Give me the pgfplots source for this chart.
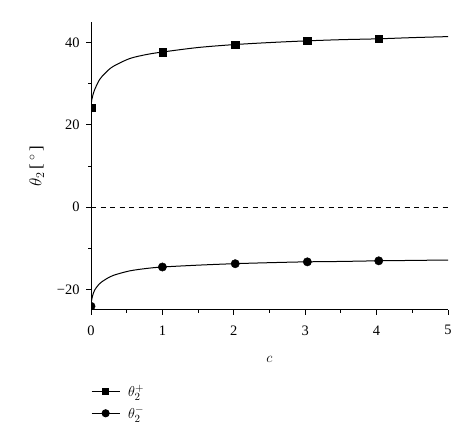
\documentclass[border=0pt]{standalone}
\usepackage{fontspec}
\setmainfont{Liberation Serif}
\usepackage{pgfplots}
\pgfplotsset{compat=1.18}
\pgfplotstableread{
c y
0 24.2
0.005 25.4
0.02 26.8
0.05 28.5
0.12 31.0
0.2 32.6
0.31 34.2
0.54 36.1
0.78 37.1
1 37.7
1.5 38.8
2 39.5
2.5 40.0
3 40.4
3.5 40.7
4 40.9
4.5 41.2
5 41.45
}\plus
\pgfplotstableread{
c y
0 -24.1
0.005 -23.0
0.02 -21.7
0.05 -20.2
0.12 -18.6
0.2 -17.6
0.31 -16.6
0.54 -15.5
0.78 -14.9
1 -14.55
1.5 -14.1
2 -13.75
2.5 -13.5
3 -13.3
3.5 -13.2
4 -13.05
4.5 -12.95
5 -12.85
}\minus
\begin{document}
\begin{tikzpicture}[x=1bp,y=1bp]
\useasboundingbox (0,0) rectangle (474,445);
\begin{axis}[
  at={(91bp,135bp)}, anchor=south west,
  scale only axis, width=357bp, height=288bp,
  xmin=0, xmax=5, ymin=-25, ymax=45,
  axis lines*=left,
  axis line style={line width=1bp},
  tick style={line width=0.9bp, black},
  tick align=outside,
  major tick length=5bp, minor tick length=3bp,
  xtick={0,1,2,3,4,5}, minor x tick num=1,
  ytick={-20,0,20,40}, yticklabels={−20,0,20,40},
  minor y tick num=1,
  /pgf/number format/assume math mode=true,
  ticklabel style={font=\fontsize{14.5}{16}\selectfont},
  xticklabel style={yshift=-7bp},
  yticklabel style={xshift=-3bp},
  xlabel={$c$},
  xlabel style={font=\fontsize{15.5}{17}\selectfont, yshift=-14bp},
  ylabel={$\theta_2$\,[\,$^{\circ}$\,]},
  ylabel style={font=\fontsize{17}{19}\selectfont, yshift=6bp},
  clip marker paths=true,
  legend style={at={(0,-0.245)}, anchor=north west, draw=none, fill=none,
    font=\fontsize{15}{17}\selectfont, row sep=4bp, inner xsep=0pt},
  legend cell align=left,
  legend image code/.code={\draw[#1, mark repeat=2, mark phase=2] plot coordinates {(0bp,0bp)(14bp,0bp)(28bp,0bp)};},
]
\addlegendimage{black, line width=0.9bp, mark=square*, mark size=3.2bp}
\addlegendentry{\hspace{6bp}$\theta_2^{+}$}
\addlegendimage{black, line width=0.9bp, mark=*, mark size=3.6bp}
\addlegendentry{\hspace{6bp}$\theta_2^{-}$}
\addplot[black, dashed, line width=0.9bp, dash pattern=on 5bp off 4.5bp, forget plot] coordinates {(0,0) (5,0)};
\addplot[black, line width=1bp, smooth, forget plot] table {\plus};
\addplot[black, line width=1bp, smooth, forget plot] table {\minus};
\addplot[only marks, mark=square*, mark size=3.7bp, black, forget plot] coordinates {(0,24.2) (1,37.7) (2.02,39.5) (3.03,40.4) (4.03,40.95)};
\addplot[only marks, mark=*, mark size=4.2bp, black, forget plot] coordinates {(0,-24.1) (1,-14.55) (2.02,-13.75) (3.03,-13.3) (4.03,-13.05)};
\end{axis}
\end{tikzpicture}
\end{document}
